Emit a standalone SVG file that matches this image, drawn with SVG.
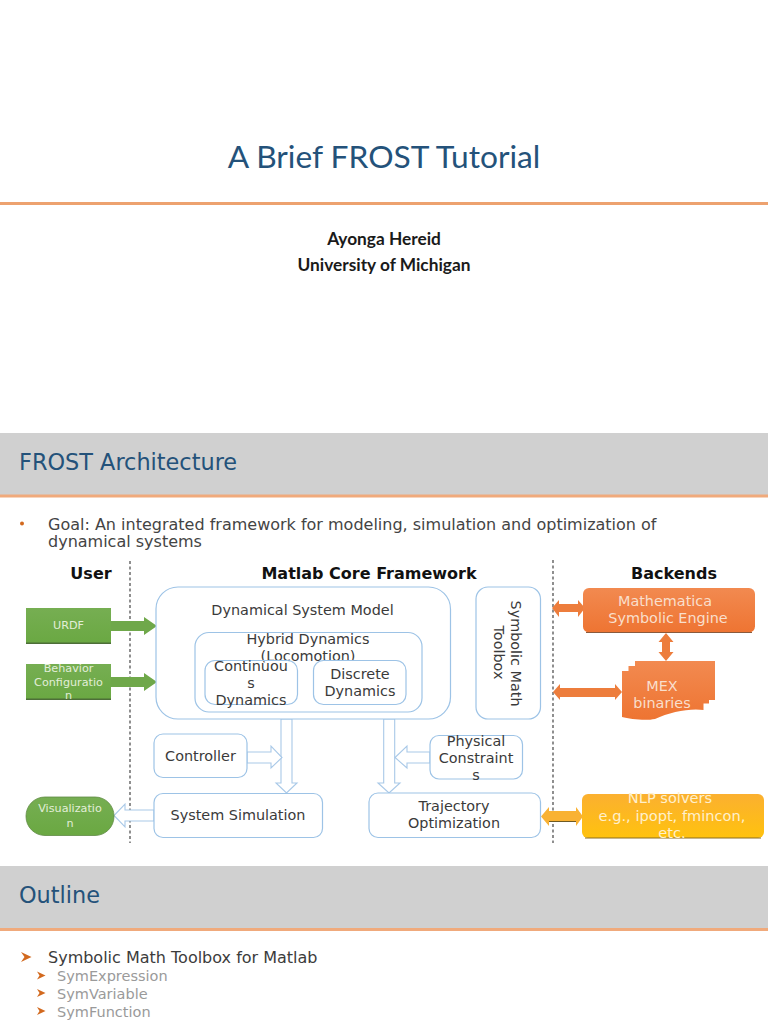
<svg xmlns="http://www.w3.org/2000/svg" width="768" height="1024" viewBox="0 0 768 1024">
<defs>
<linearGradient id="gr" x1="0" y1="0" x2="0" y2="1"><stop offset="0" stop-color="#76ae52"/><stop offset="1" stop-color="#6aa842"/></linearGradient>
<linearGradient id="or" x1="0" y1="0" x2="0" y2="1"><stop offset="0" stop-color="#f28a50"/><stop offset="1" stop-color="#ee7432"/></linearGradient>
<linearGradient id="ye" x1="0" y1="0" x2="0" y2="1"><stop offset="0" stop-color="#fbb030"/><stop offset="1" stop-color="#ffc20e"/></linearGradient>
</defs>
<style>
text{font-family:"DejaVu Sans","Liberation Sans",sans-serif;fill:#3a3a3a}
.c{text-anchor:middle}
.n{font-size:14.4px}
.box{fill:#fff;stroke:#9dc3e6;stroke-width:1.2}
.blk{fill:#fff;stroke:#a9c9e8;stroke-width:1.1}
.hd{font-size:16px;font-weight:bold;fill:#111;text-anchor:middle}
.sec{font-size:22.4px;fill:#24527a}
.band{fill:#d0d0d0}
.rule{fill:#f0aa7c}
.w{fill:#f9dfcc;text-anchor:middle;font-size:14.4px}
.wy{fill:#fff0cc;text-anchor:middle;font-size:14.600px}
.ws{fill:#e2eed8;text-anchor:middle;font-size:11.2px}
.dash{stroke:#333;stroke-width:1.1;stroke-dasharray:3 2.5;fill:none}
.sub{font-size:14.500px;fill:#9a9a9a}
.bul{fill:#d2691e}
.or{fill:#ed7d3c}
.ti{font-family:Lato,'Open Sans',sans-serif;font-size:31.700px;fill:#24527a}
.au{font-family:Lato,sans-serif;font-size:17.300px;font-weight:bold;fill:#1a1a1a}
.body{font-size:16px;fill:#444}
</style>
<rect width="768" height="1024" fill="#fff"/>

<g id="slide1">
<text x="384" y="168" class="c ti">A Brief FROST Tutorial</text>
<rect y="202" width="768" height="3" fill="#eda26f"/>
<text x="384" y="245" class="c au">Ayonga Hereid</text>
<text x="384" y="271" class="c au">University of Michigan</text>
</g>

<g id="header2">
<rect class="band" y="433" width="768" height="62"/>
<rect class="rule" y="494.500" width="768" height="3"/>
<text x="19" y="470" class="sec">FROST Architecture</text>
</g>
<g id="goal">
<circle class="bul" cx="22" cy="523.500" r="2"/>
<text x="48" y="530" class="body">Goal: An integrated framework for modeling, simulation and optimization of</text>
<text x="48" y="547" class="body">dynamical systems</text>
</g>

<g id="titles">
<text x="91" y="579" class="hd">User</text>
<text x="369" y="579" class="hd">Matlab Core Framework</text>
<text x="674" y="579" class="hd">Backends</text>
</g>

<g id="connectors">
<path class="dash" d="M130 561V843M553 560V843"/>
<path d="M111 621H144V617L157 626L144 635V631H111Z" fill="#6fa84a"/>
<path d="M111 677H144V673L157 682L144 691V687H111Z" fill="#6fa84a"/>
<path class="or" d="M552 608L559 600V604H578V600L585 608L578 617V612H559V617Z"/>
<path class="or" d="M666 633L673.500 642H670V652H673.500L666 661L658.500 652H662V642H658.500Z"/>
<path class="or" d="M553 692L560 684V688H615V684L622 692L615 700V697H560V700Z"/>
<path d="M541 816.500L549 807V811H576V807L583 816.500L576 826V822H549V826Z" fill="#f9b233"/>
<path d="M549 821.500H576" stroke="#6e5a24" stroke-width="1" fill="none"/>

<path class="blk" d="M281 719V783H276L286.500 793L297 783H292V719Z"/>
<path class="blk" d="M247 752H271V746L282 757.500L271 768V763H247Z"/>
<path class="blk" d="M383.700 719V783H378L389 793L400 783H394.700V719Z"/>
<path class="blk" d="M430 752H407V746L395 757.500L407 768V763H430Z"/>
<path class="blk" d="M154 810H125V804L114 815.500L125 827V821H154Z"/>
</g>

<g id="urdf"><rect x="26" y="608" width="85" height="36" fill="url(#gr)"/><rect x="26" y="642.500" width="85" height="1.500" fill="#4d6e38"/><text x="68.500" y="629" class="ws">URDF</text></g>
<g id="behavior"><rect x="26" y="664" width="85" height="36" fill="url(#gr)"/><rect x="26" y="698.500" width="85" height="1.500" fill="#4d6e38"/>
<text x="68.500" y="672" class="ws">Behavior</text><text x="68.500" y="686" class="ws">Configuratio</text><text x="68.500" y="699" class="ws">n</text></g>
<g id="visualization"><rect x="26" y="797" width="88" height="38.500" rx="19" fill="url(#gr)" stroke="#5f8a44" stroke-width=".8"/><text x="70" y="812" class="ws">Visualizatio</text><text x="70" y="827" class="ws">n</text></g>

<g id="dsm"><rect class="box" x="156" y="587" width="294.500" height="132" rx="22"/><text x="302.500" y="615" class="c n">Dynamical System Model</text></g>
<g id="hybrid"><rect class="box" x="195" y="632.500" width="227" height="79.500" rx="14"/><text x="308" y="644" class="c n">Hybrid Dynamics</text><text x="308" y="661" class="c n">(Locomotion)</text></g>
<g id="continuous"><rect class="box" x="205" y="660.500" width="92.500" height="44" rx="10" fill-opacity="0"/><text x="251" y="671" class="c n">Continuou</text><text x="251" y="688" class="c n">s</text><text x="251" y="705" class="c n">Dynamics</text></g>
<g id="discrete"><rect class="box" x="313.500" y="660.500" width="92.500" height="44" rx="10"/><text x="360" y="679" class="c n">Discrete</text><text x="360" y="696" class="c n">Dynamics</text></g>
<g id="symbolic"><rect class="box" x="476" y="587" width="64.500" height="132" rx="12"/>
<text transform="translate(510.500,600.500) rotate(90)" class="n">Symbolic Math</text><text transform="translate(493.500,625.500) rotate(90)" class="n">Toolbox</text></g>
<g id="controller"><rect class="box" x="154" y="734" width="93" height="43.500" rx="9"/><text x="200.500" y="761" class="c n">Controller</text></g>
<g id="simulation"><rect class="box" x="154" y="793.500" width="168.500" height="44" rx="9"/><text x="238" y="820" class="c n">System Simulation</text></g>
<g id="trajectory"><rect class="box" x="369" y="793" width="171.500" height="44.500" rx="9"/><text x="454" y="811" class="c n">Trajectory</text><text x="454" y="828" class="c n">Optimization</text></g>
<g id="physical"><rect class="box" x="430" y="735.500" width="92.500" height="43.500" rx="9"/><text x="476" y="746" class="c n">Physical</text><text x="476" y="763" class="c n">Constraint</text><text x="476" y="780" class="c n">s</text></g>

<g id="mathematica"><rect x="583" y="588" width="172" height="44.500" rx="6" fill="url(#or)"/><path d="M586 632.500H752" stroke="#8a5a3c" stroke-width="1"/><text x="665" y="606" class="w">Mathematica</text><text x="668" y="623" class="w">Symbolic Engine</text></g>
<g id="mex"><path d="M622 671H628.500V666H635V661H715V700H709V703.500H703.500V710C690 708 670 712 655 719C645 721 630 719 622 717Z" fill="url(#or)"/><text x="662" y="691" class="w">MEX</text><text x="662" y="708" class="w">binaries</text></g>
<g id="nlp"><rect x="582" y="794" width="182" height="44" rx="6" fill="url(#ye)"/><path d="M585 838H761" stroke="#8a6d20" stroke-width="1"/><text x="670" y="803" class="wy">NLP solvers</text><text x="672" y="821" class="wy">e.g., ipopt, fmincon,</text><text x="672" y="838" class="wy">etc.</text></g>

<g id="header3">
<rect class="band" y="866" width="768" height="62"/>
<rect class="rule" y="928" width="768" height="3"/>
<text x="19" y="903" class="sec">Outline</text>
</g>
<g id="outline">
<path class="bul" d="M21 952L31.500 957L21 962L24.500 957Z"/>
<path class="bul" d="M37 971.500L45.500 975.500L37 979.500L39.500 975.500Z"/>
<path class="bul" d="M37 989L45.500 993L37 997L39.500 993Z"/>
<path class="bul" d="M37 1007L45.500 1011L37 1015L39.500 1011Z"/>
<text x="48" y="963" class="body" style="fill:#3c3c3c">Symbolic Math Toolbox for Matlab</text>
<text x="57" y="981" class="sub">SymExpression</text>
<text x="57" y="999" class="sub">SymVariable</text>
<text x="57" y="1017" class="sub">SymFunction</text>
</g>
</svg>
